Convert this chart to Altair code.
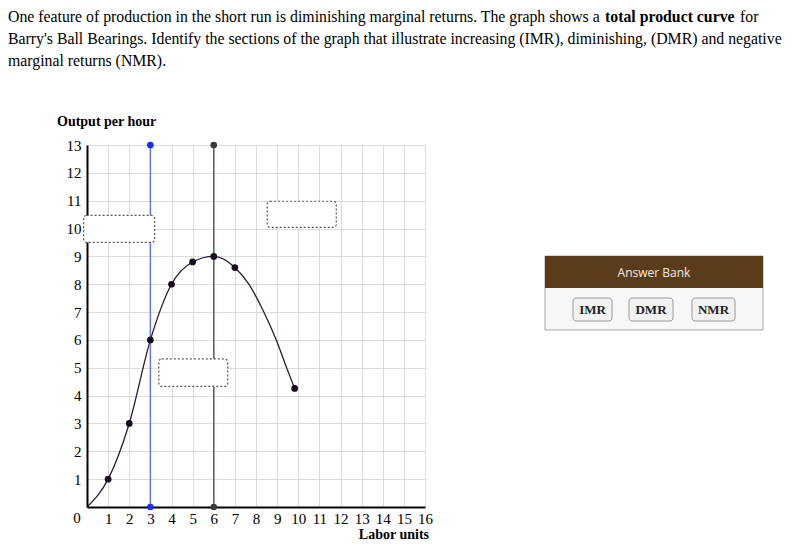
import altair as alt
import pandas as pd

# total product curve: marked points
labor = [0, 1, 2, 3, 4, 5, 6, 7, 9.83]
output = [0, 1, 3, 6, 8, 8.8, 9, 8.6, 4.26]
# extra spots on the falling branch (no dot drawn there)
fall_x = [7.66, 8.37, 8.96, 9.45]
fall_y = [8, 7, 6, 5]

# the two vertical markers
guide_x = [3, 6]
guide_low, guide_high = 0, 13

# dotted answer boxes (data units)
box_x1 = [-0.16, 8.53, 3.4]
box_x2 = [3.2, 11.8, 6.66]
box_y1 = [9.5, 10.04, 4.33]
box_y2 = [10.47, 10.98, 5.32]

x_ticks = list(range(1, 17))
y_ticks = list(range(1, 14))
answers = ["IMR", "DMR", "NMR"]

W, H = 338, 362
SERIF = "Liberation Serif"

dots = pd.DataFrame({"x": labor[1:], "y": output[1:]})
curve = pd.DataFrame({"x": labor + fall_x, "y": output + fall_y}).sort_values("x")
boxes = pd.DataFrame({"x": box_x1, "x2": box_x2, "y": box_y1, "y2": box_y2})
one = pd.DataFrame({"k": [0]})


def xenc(field="x"):
    return alt.X(field + ":Q", scale=alt.Scale(domain=[0, 16], nice=False),
                 axis=alt.Axis(values=x_ticks, title=None, ticks=False, grid=True,
                               gridColor="#dcdcdc", domainColor="black", domainWidth=2,
                               labelFont=SERIF, labelFontSize=15, labelColor="black",
                               labelPadding=4, labelFlush=False))


def yenc(field="y"):
    return alt.Y(field + ":Q", scale=alt.Scale(domain=[0, 13], nice=False),
                 axis=alt.Axis(values=y_ticks, title=None, ticks=False, grid=True,
                               gridColor="#dcdcdc", domainColor="black", domainWidth=2,
                               labelFont=SERIF, labelFontSize=15, labelColor="black",
                               labelPadding=6, labelFlush=False))


def label(text, x, y, **kw):
    return alt.Chart(one).mark_text(text=text, **kw).encode(x=alt.value(x), y=alt.value(y))


layers = []

line = alt.Chart(curve).mark_line(interpolate="monotone", color="#2a1a3a", strokeWidth=1.3).encode(
    x=xenc(), y=yenc(), order="x:Q")
layers.append(line)

line_colors = ["#6272e6", "#3d7d3d"]
end_colors = ["#1a2cff", "#3a3a3a"]
for gx, lc, ec in zip(guide_x, line_colors, end_colors):
    g = pd.DataFrame({"x": [gx, gx], "y": [guide_low, guide_high]})
    layers.append(alt.Chart(g).mark_line(color=lc, strokeWidth=1.5).encode(x=xenc(), y=yenc()))
    layers.append(alt.Chart(g).mark_circle(color=ec, opacity=1, size=45).encode(x=xenc(), y=yenc()))

layers.append(alt.Chart(dots).mark_circle(color="#150d1c", opacity=1, size=45).encode(x=xenc(), y=yenc()))

layers.append(alt.Chart(boxes).mark_rect(fill="white", stroke="#555555", strokeWidth=1.2,
                                        strokeDash=[2, 2], cornerRadius=3).encode(
    x=xenc(), x2="x2:Q", y=yenc(), y2="y2:Q"))

# axis captions
layers.append(label("0", -10, H + 11, font=SERIF, fontSize=15, color="black", baseline="middle"))
layers.append(label("Output per hour", -30, -23, font=SERIF, fontSize=14, fontWeight="bold",
                    color="black", align="left", baseline="middle"))
layers.append(label("Labor units", 342, 394, font=SERIF, fontSize=14, fontWeight="bold",
                    color="black", align="right", baseline="alphabetic"))

# question text
q = dict(font=SERIF, fontSize=15.8, color="black", align="left", baseline="alphabetic")
layers.append(label("One feature of production in the short run is diminishing marginal returns. "
                    "The graph shows a", -79, -123, **q))
layers.append(label("total product curve", 518, -123, fontWeight="bold", **q))
layers.append(label("for", 653, -123, **q))
layers.append(label("Barry's Ball Bearings. Identify the sections of the graph that illustrate "
                    "increasing (IMR), diminishing, (DMR) and negative", -79, -101, **q))
layers.append(label("marginal returns (NMR).", -79, -79, **q))

# answer bank panel
bx1, bx2 = 458, 676
layers.append(alt.Chart(one).mark_rect(fill="#f7f7f7", stroke="#a8a8a8").encode(
    x=alt.value(bx1), x2=alt.value(bx2), y=alt.value(111), y2=alt.value(185)))
layers.append(alt.Chart(one).mark_rect(fill="#5a3b1b").encode(
    x=alt.value(bx1), x2=alt.value(bx2), y=alt.value(111), y2=alt.value(143)))
layers.append(label("Answer Bank", (bx1 + bx2) / 2, 128, font="Open Sans", fontSize=12,
                    color="#f3ebe0", baseline="middle"))
btn_left = [486, 542, 605]
btn_w = [39, 44, 43]
for name, bl, bw in zip(answers, btn_left, btn_w):
    layers.append(alt.Chart(one).mark_rect(fill="#f2f2f2", stroke="#9a9a9a", cornerRadius=3).encode(
        x=alt.value(bl), x2=alt.value(bl + bw), y=alt.value(153), y2=alt.value(176)))
    layers.append(label(name, bl + bw / 2, 165, font=SERIF, fontSize=13, fontWeight="bold",
                        color="#222222", baseline="middle"))

chart = alt.layer(*layers).properties(
    width=W, height=H,
    autosize=alt.AutoSizeParams(type="none"),
    padding={"left": 79, "top": 137, "right": 360, "bottom": 36},
).configure_view(stroke=None)

chart.save("out.html", embed_options={"renderer": "svg", "actions": False})
